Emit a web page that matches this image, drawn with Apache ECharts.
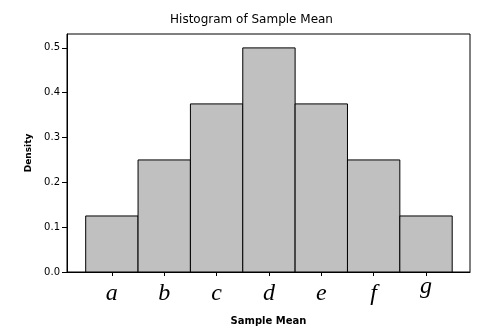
<!DOCTYPE html>
<html><head><meta charset="utf-8">
<script src="https://cdn.jsdelivr.net/npm/echarts@6/dist/echarts.min.js"></script>
<style>html,body{margin:0;padding:0;background:#fff}#c{width:503px;height:329px}</style>
</head><body><div id="c"></div>
<script>
const categories = ['a', 'b', 'c', 'd', 'e', 'f', 'g'];
const positions = [1, 2, 3, 4, 5, 6, 7];
const densities = [0.125, 0.25, 0.375, 0.5, 0.375, 0.25, 0.125];
const yTicks = [0, 0.1, 0.2, 0.3, 0.4, 0.5];

const chart = echarts.init(document.getElementById('c'), null, {renderer: 'canvas'});
const data = positions.map((p, i) => [p, densities[i]]);
chart.setOption({
  animation: false,
  title: {
    text: 'Histogram of Sample Mean', left: 'center', top: 9,
    textStyle: {fontFamily: 'DejaVu Sans', fontSize: 12, fontWeight: 'normal', color: '#000'}
  },
  grid: {left: 67, right: 33, top: 34, bottom: 57, show: true, borderColor: '#000', borderWidth: 1, backgroundColor: '#fff',
         containLabel: false, outerBoundsMode: 'none'},
  xAxis: {
    type: 'value', min: 0.143, max: 7.84,
    splitLine: {show: false},
    axisLine: {show: true, onZero: false, lineStyle: {color: '#000', width: 1}},
    axisTick: {show: true, length: 4, customValues: positions, lineStyle: {color: '#000'}},
    axisLabel: {
      customValues: positions, margin: 9,
      formatter: v => {
        const c = categories[Math.round(v) - 1] || '';
        return c === 'g' ? '{up|' + c + '}' : '{n|' + c + '}';
      },
      rich: {
        n: {fontFamily: 'Liberation Serif', fontStyle: 'italic', fontSize: 24, lineHeight: 26, color: '#000'},
        up: {fontFamily: 'Liberation Serif', fontStyle: 'italic', fontSize: 24, lineHeight: 12, color: '#000'}
      }
    },
    name: 'Sample Mean', nameLocation: 'middle', nameGap: 44,
    nameTextStyle: {fontFamily: 'DejaVu Sans', fontWeight: 'bold', fontSize: 10, color: '#000'}
  },
  yAxis: {
    type: 'value', min: 0, max: 0.531,
    splitLine: {show: false},
    axisLine: {show: true, lineStyle: {color: '#000', width: 1}},
    axisTick: {show: true, length: 5, customValues: yTicks, lineStyle: {color: '#000'}},
    axisLabel: {
      customValues: yTicks, margin: 7,
      formatter: v => v.toFixed(1),
      fontFamily: 'DejaVu Sans', fontSize: 10, color: '#000'
    },
    name: 'Density', nameLocation: 'middle', nameGap: 27, nameRotate: 90,
    nameTextStyle: {fontFamily: 'DejaVu Sans', fontWeight: 'bold', fontSize: 9, color: '#000'}
  },
  series: [{
    type: 'custom',
    data: data,
    encode: {x: 0, y: 1},
    renderItem: function (params, api) {
      const x = api.value(0), y = api.value(1);
      const p0 = api.coord([x - 0.5, y]);
      const p1 = api.coord([x + 0.5, 0]);
      return {
        type: 'rect',
        shape: {x: p0[0], y: p0[1], width: p1[0] - p0[0], height: p1[1] - p0[1]},
        style: {fill: '#c0c0c0', stroke: '#000', lineWidth: 1}
      };
    }
  }]
});
</script></body></html>
